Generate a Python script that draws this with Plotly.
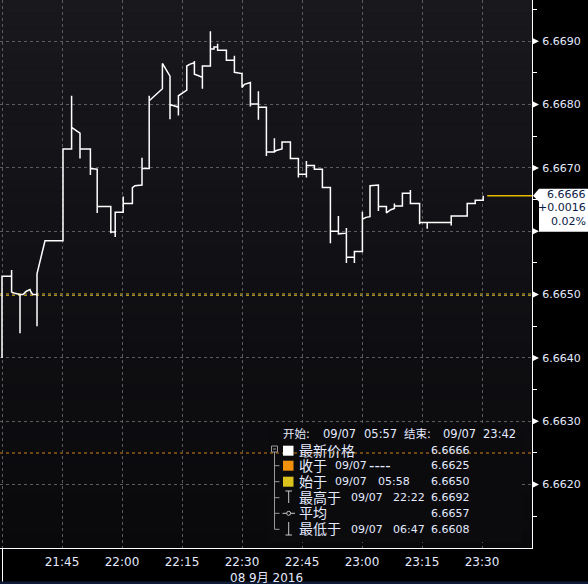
import plotly.graph_objects as go
import pandas as pd

# ---------------- data ----------------
BASE_TIME = "2016-09-08 21:30:00"

# minutes after 21:30 and price (USD/CNY)
minutes = [0.0, 0.0, 2.4, 2.4, 2.4, 3.25, 4.5, 4.5, 4.5, 5.25, 6.0, 7.0, 7.25, 7.75, 8.75, 8.75, 8.75,
           10.75, 15.25, 15.25, 17.4, 17.4, 17.4, 18.75, 19.5, 19.5, 19.5, 22.1, 22.1, 22.1, 23.8, 23.8,
           23.8, 27.2, 27.2, 27.2, 28.3, 28.3, 28.3, 30.3, 30.3, 30.3, 32.6, 32.6, 33.25, 35.0, 35.0,
           35.0, 36.8, 36.8, 36.8, 40.1, 40.1, 42.0, 42.0, 42.0, 44.1, 44.1, 44.1, 46.2, 46.2, 47.0,
           48.1, 48.1, 48.1, 49.0, 50.1, 50.1, 50.1, 52.1, 52.1, 52.1, 53.0, 53.0, 53.9, 53.9, 53.9,
           56.1, 56.1, 58.1, 58.1, 58.1, 60.0, 60.0, 60.6, 62.1, 62.1, 62.1, 64.1, 64.1, 64.1, 64.1,
           66.1, 66.1, 66.1, 68.1, 68.1, 68.1, 68.75, 70.0, 70.0, 72.1, 72.1, 74.1, 74.1, 74.1, 76.1,
           76.1, 76.1, 76.1, 78.1, 78.1, 80.1, 80.1, 82.1, 82.1, 82.1, 84.1, 84.1, 84.1, 86.1, 86.1,
           86.1, 86.1, 88.1, 88.1, 88.1, 90.1, 90.1, 90.1, 91.0, 92.0, 92.0, 94.1, 94.1, 94.1, 96.1,
           96.1, 97.2, 98.1, 98.1, 98.1, 100.1, 100.1, 102.1, 102.1, 102.1, 104.4, 104.4, 104.4, 106.3,
           106.3, 106.3, 112.3, 112.3, 112.3, 116.3, 116.3, 118.3, 118.3, 120.3, 120.3]
prices = [6.66400, 6.66529, 6.66529, 6.66539, 6.66504, 6.66502, 6.66500, 6.66439, 6.66500, 6.66500,
          6.66505, 6.66508, 6.66504, 6.66500, 6.66500, 6.66450, 6.66533, 6.66585, 6.66585, 6.66730,
          6.66730, 6.66814, 6.66764, 6.66758, 6.66755, 6.66715, 6.66730, 6.66730, 6.66689, 6.66699,
          6.66698, 6.66629, 6.66639, 6.66639, 6.66597, 6.66599, 6.66599, 6.66591, 6.66630, 6.66630,
          6.66655, 6.66644, 6.66644, 6.66669, 6.66672, 6.66673, 6.66716, 6.66699, 6.66699, 6.66814,
          6.66806, 6.66825, 6.66865, 6.66845, 6.66777, 6.66800, 6.66796, 6.66783, 6.66814, 6.66823,
          6.66861, 6.66864, 6.66866, 6.66869, 6.66848, 6.66846, 6.66843, 6.66825, 6.66861, 6.66861,
          6.66916, 6.66888, 6.66888, 6.66891, 6.66891, 6.66896, 6.66886, 6.66886, 6.66870, 6.66870,
          6.66877, 6.66851, 6.66849, 6.66827, 6.66832, 6.66835, 6.66797, 6.66801, 6.66801, 6.66821,
          6.66776, 6.66796, 6.66796, 6.66719, 6.66725, 6.66725, 6.66747, 6.66726, 6.66728, 6.66730,
          6.66741, 6.66741, 6.66715, 6.66715, 6.66685, 6.66690, 6.66690, 6.66711, 6.66685, 6.66704,
          6.66704, 6.66698, 6.66698, 6.66669, 6.66669, 6.66581, 6.66600, 6.66600, 6.66624, 6.66596,
          6.66597, 6.66605, 6.66550, 6.66559, 6.66559, 6.66550, 6.66568, 6.66568, 6.66631, 6.66619,
          6.66622, 6.66623, 6.66672, 6.66673, 6.66632, 6.66639, 6.66639, 6.66629, 6.66634, 6.66636,
          6.66644, 6.66640, 6.66640, 6.66660, 6.66660, 6.66665, 6.66644, 6.66644, 6.66611, 6.66614,
          6.66614, 6.66604, 6.66614, 6.66614, 6.66609, 6.66624, 6.66624, 6.66644, 6.66644, 6.66649,
          6.66649, 6.66656]

tick_minutes = [0, 15, 30, 45, 60, 75, 90, 105, 120]
tick_labels = ["", "21:45", "22:00", "22:15", "22:30", "22:45", "23:00", "23:15", "23:30"]
x_range_minutes = [-0.5, 132.5]
y_ticks = [6.6620, 6.6630, 6.6640, 6.6650, 6.6660, 6.6670, 6.6680, 6.6690]
y_range = [6.660999, 6.669652]
date_label = "08 9月 2016"

last_price_text = "6.6666"
net_change_text = "+0.0016"
pct_change_text = "0.02%"
open_price = 6.6650
prev_close = 6.6625

header_tokens = ["开始:", "09/07", "05:57", "结束:", "09/07", "23:42"]
item_names = ["最新价格", "收于", "始于", "最高于", "平均", "最低于"]
item_dates = ["", "09/07", "09/07", "09/07", "", "09/07"]
item_times = ["", "----", "05:58", "22:22", "", "06:47"]
item_values = ["6.6666", "6.6625", "6.6650", "6.6692", "6.6657", "6.6608"]
swatch_colors = ["#ffffff", "#f0900c", "#dcc21c"]

# ---------------- styling / layout helpers ----------------
W, H = 588, 584
PW, PH = 532, 548
FONT = "DejaVu Sans, Noto Sans CJK SC"
TXT = "#e4eaff"
GRID = "#5c5c5c"


def fx(p):
    return p / PW


def fy(p):
    return 1 - p / PH


base = pd.Timestamp(BASE_TIME)
times = base + pd.to_timedelta(minutes, unit="min")
tick_times = [base + pd.Timedelta(minutes=m) for m in tick_minutes]
x_range = [base + pd.Timedelta(minutes=m) for m in x_range_minutes]
minor_y = [v - 0.0005 for v in y_ticks] + [y_ticks[-1] + 0.0005]
# the label lying behind the last-price box is not drawn
y_ticktext = ["" if (prices[-1] - 0.0006) < v < (prices[-1] + 0.00015) else "%.4f" % v
              for v in y_ticks]

fig = go.Figure()
fig.add_trace(go.Scatter(x=times, y=prices, mode="lines",
                         line=dict(color="#ffffff", width=1.5), hoverinfo="skip",
                         showlegend=False))

shapes = []
# background gradient of plot area
N = 40
top, bot = (24, 24, 29), (9, 9, 12)
for i in range(N):
    t = (i + 0.5) / N
    c = tuple(round(bot[k] + (top[k] - bot[k]) * t) for k in range(3))
    shapes.append(dict(type="rect", xref="paper", yref="paper", x0=0, x1=1,
                       y0=i / N, y1=(i + 1) / N, fillcolor="rgb(%d,%d,%d)" % c,
                       line=dict(width=0), layer="below"))
# open price dotted line
shapes.append(dict(type="line", xref="paper", yref="y", x0=0, x1=1, y0=open_price, y1=open_price,
                   line=dict(color="#e6c000", width=2.2, dash="dot"), layer="between"))
# legend panel
shapes.append(dict(type="rect", xref="paper", yref="paper", x0=fx(269), x1=fx(522),
                   y0=fy(542), y1=fy(425), fillcolor="#0b0b0e", line=dict(width=0), layer="above"))
# previous close dotted line
shapes.append(dict(type="line", xref="paper", yref="y", x0=0, x1=1, y0=prev_close, y1=prev_close,
                   line=dict(color="#6e4612", width=2, dash="dot"), layer="above"))
# last price line
shapes.append(dict(type="line", xref="x", yref="y", x0=times[-1] + pd.Timedelta(minutes=1),
                   x1=x_range[1], y0=prices[-1], y1=prices[-1],
                   line=dict(color="#e6b800", width=1.5), layer="above"))
# price box with pointer
shapes.append(dict(type="path", xref="paper", xsizemode="pixel", xanchor=1,
                   yref="y", ysizemode="pixel", yanchor=prices[-1],
                   path="M1,0 L7,7 L60,7 L60,-36 L7,-36 L7,-6 Z",
                   fillcolor="#ffffff", line=dict(width=0), layer="above"))
# triangle markers on the value axis
for v in y_ticks:
    shapes.append(dict(type="path", xref="paper", xsizemode="pixel", xanchor=1,
                       yref="y", ysizemode="pixel", yanchor=v,
                       path="M1,3 L7,0 L1,-3 Z", fillcolor="#ffffff",
                       line=dict(width=0), layer="above"))
# left white line under the time axis
shapes.append(dict(type="line", xref="paper", yref="paper", x0=fx(2.5), x1=fx(2.5),
                   y0=fy(584), y1=fy(548), line=dict(color="#ffffff", width=1)))
# bottom navy strip
shapes.append(dict(type="rect", xref="paper", yref="paper", x0=0, x1=fx(W),
                   y0=fy(584), y1=fy(581.5), fillcolor="#0e1c38", line=dict(width=0)))

row_y = [450.7, 465.7, 481.7, 497.7, 513.3, 529.3]
# tree
TREE = "#9a9a9a"
shapes.append(dict(type="rect", xref="paper", yref="paper", x0=fx(271.5), x1=fx(277.5),
                   y0=fy(452), y1=fy(446), line=dict(color=TREE, width=1), layer="above"))
shapes.append(dict(type="line", xref="paper", yref="paper", x0=fx(273), x1=fx(276),
                   y0=fy(449), y1=fy(449), line=dict(color=TREE, width=1), layer="above"))
shapes.append(dict(type="line", xref="paper", yref="paper", x0=fx(274.5), x1=fx(274.5),
                   y0=fy(row_y[-1]), y1=fy(452), line=dict(color=TREE, width=1), layer="above"))
for ry in row_y[1:]:
    shapes.append(dict(type="line", xref="paper", yref="paper", x0=fx(274.5), x1=fx(279.5),
                       y0=fy(ry), y1=fy(ry), line=dict(color=TREE, width=1), layer="above"))
# colour swatches
for ry, col in zip(row_y[:3], swatch_colors):
    shapes.append(dict(type="rect", xref="paper", yref="paper", x0=fx(283), x1=fx(293.5),
                       y0=fy(ry + 5), y1=fy(ry - 5), fillcolor=col, line=dict(width=0), layer="above"))
ICON = "#c8c8c8"
# high icon
shapes.append(dict(type="line", xref="paper", yref="paper", x0=fx(285.5), x1=fx(292),
                   y0=fy(491), y1=fy(491), line=dict(color=ICON, width=1), layer="above"))
shapes.append(dict(type="line", xref="paper", yref="paper", x0=fx(288.7), x1=fx(288.7),
                   y0=fy(503), y1=fy(491), line=dict(color=ICON, width=1), layer="above"))
# average icon
shapes.append(dict(type="line", xref="paper", yref="paper", x0=fx(282.5), x1=fx(295),
                   y0=fy(row_y[4]), y1=fy(row_y[4]), line=dict(color=ICON, width=1), layer="above"))
shapes.append(dict(type="circle", xref="paper", yref="paper", x0=fx(286.7), x1=fx(290.7),
                   y0=fy(row_y[4] + 2), y1=fy(row_y[4] - 2), fillcolor="#0b0b0e",
                   line=dict(color=ICON, width=1), layer="above"))
# low icon
shapes.append(dict(type="line", xref="paper", yref="paper", x0=fx(288.7), x1=fx(288.7),
                   y0=fy(535), y1=fy(522), line=dict(color=ICON, width=1), layer="above"))
shapes.append(dict(type="line", xref="paper", yref="paper", x0=fx(285.5), x1=fx(292),
                   y0=fy(535), y1=fy(535), line=dict(color=ICON, width=1), layer="above"))

annotations = []


def txt(x, y, s, size=11, color=TXT, anchor="left"):
    annotations.append(dict(xref="paper", yref="paper", x=fx(x), y=fy(y), text=s,
                            showarrow=False, xanchor=anchor, yanchor="middle",
                            borderpad=0, borderwidth=0,
                            font=dict(family=FONT, size=size, color=color)))


# header line of legend
for x, s in zip([282.7, 323.3, 364, 404.3, 442.7, 483.3], header_tokens):
    txt(x, 434, s, size=11.5)
# legend rows
for i, ry in enumerate(row_y):
    name = item_names[i]
    txt(298.5, ry, name, size=14)
    dx = 335 if len(name) == 2 else 350.7
    if item_dates[i]:
        txt(dx, ry, item_dates[i])
    if item_times[i]:
        if item_times[i] == "----":
            txt(369, ry, item_times[i], size=15)
        else:
            txt(dx + 42.6, ry, item_times[i])
    txt(431.3, ry, item_values[i])

# date label under time axis
txt(266, 577.5, date_label, size=12, anchor="center")

# price box texts
BOX_TXT = "#0a1c46"
for s, shift in [(last_price_text, 1.5), (net_change_text, -12), (pct_change_text, -26)]:
    annotations.append(dict(xref="paper", yref="y", x=1, y=prices[-1], xshift=53.5, yshift=shift,
                            text=s, showarrow=False, xanchor="right", yanchor="middle",
                            borderpad=0, borderwidth=0,
                            font=dict(family=FONT, size=11, color=BOX_TXT)))

fig.update_layout(
    width=W, height=H,
    margin=dict(l=0, r=W - PW, t=0, b=H - PH, pad=0),
    paper_bgcolor="#000000", plot_bgcolor="#0e0e12",
    showlegend=False,
    shapes=shapes, annotations=annotations,
    xaxis=dict(type="date", range=x_range, tickmode="array", tickvals=tick_times,
               ticktext=tick_labels, showgrid=True, gridcolor=GRID, gridwidth=1,
               griddash="3px,3px", showline=True, linecolor="#ffffff", linewidth=1,
               ticks="outside", ticklen=3, tickcolor="rgba(0,0,0,0)",
               tickfont=dict(family=FONT, size=12, color=TXT), zeroline=False),
    yaxis=dict(side="right", range=y_range, tickmode="array", tickvals=y_ticks,
               ticktext=y_ticktext, showgrid=True, gridcolor=GRID,
               gridwidth=1, griddash="3px,3px", showline=True, linecolor="#ffffff",
               linewidth=1, ticks="outside", ticklen=7, tickcolor="rgba(0,0,0,0)",
               minor=dict(ticks="outside", ticklen=4, tickcolor="#ffffff", tickwidth=1,
                          tickmode="array", tickvals=minor_y, showgrid=False),
               tickfont=dict(family=FONT, size=11, color=TXT), zeroline=False),
)

fig.write_html("out.html", config={"displayModeBar": False},
               post_script="document.body.style.margin='0';document.body.style.background='#000';")
